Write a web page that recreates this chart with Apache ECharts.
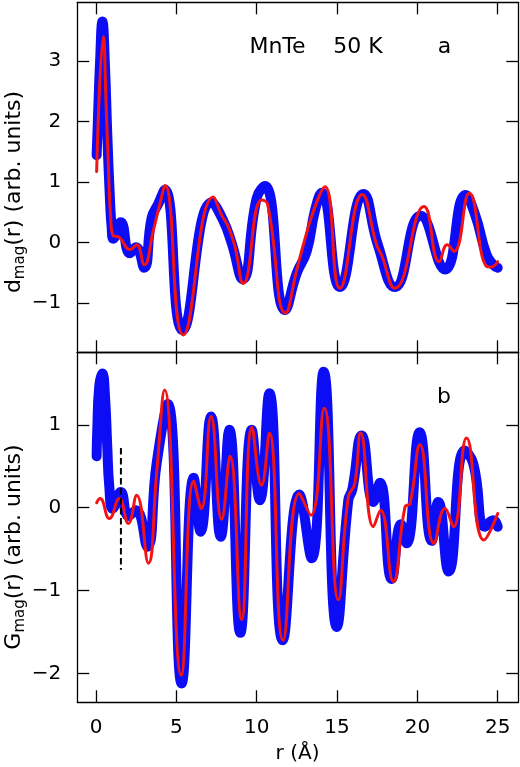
<!DOCTYPE html>
<html>
<head>
<meta charset="utf-8">
<script src="https://cdn.jsdelivr.net/npm/echarts@6/dist/echarts.min.js"></script>
<style>
  html, body { margin: 0; padding: 0; background: #fff; }
  #chart { width: 520px; height: 767px; }
</style>
</head>
<body>
<div id="chart"></div>
<script>
// ---- data: [r (Å), value] ----
var dExpt = [[0.04,1.44],[0.14,2.19],[0.24,2.90],[0.40,3.65],[0.56,2.90],[0.70,1.80],[0.87,0.70],[0.97,0.26],[1.08,0.06],[1.54,0.33],[2.10,-0.18],[2.49,-0.08],[3.00,-0.42],[3.46,0.40],[3.88,0.64],[4.29,0.87],[5.39,-1.45],[7.20,0.66],[7.90,0.37],[8.45,-0.02],[9.13,-0.61],[10.00,0.73],[10.52,0.93],[11.76,-1.12],[12.49,-0.51],[13.11,-0.15],[13.63,0.53],[14.04,0.82],[15.18,-0.74],[16.64,0.80],[17.55,-0.05],[18.60,-0.74],[20.20,0.44],[21.72,-0.45],[23.00,0.78],[23.60,0.45],[24.30,-0.20],[24.75,-0.38],[25.00,-0.42]];
var dCalc = [[0.04,1.17],[0.46,3.40],[0.62,2.35],[0.77,1.25],[0.91,0.42],[1.04,0.12],[1.45,0.08],[2.12,-0.12],[2.53,-0.04],[3.00,-0.37],[3.57,0.20],[3.98,0.64],[4.30,0.94],[5.43,-1.53],[7.30,0.75],[7.82,0.45],[8.23,0.26],[8.65,-0.07],[9.17,-0.68],[10.31,0.70],[10.68,0.63],[11.80,-1.17],[12.49,-0.46],[13.00,0.05],[13.63,0.59],[14.25,0.92],[15.18,-0.76],[16.57,0.79],[17.46,-0.04],[17.77,-0.21],[18.60,-0.76],[20.41,0.59],[21.36,-0.32],[21.86,-0.04],[22.28,-0.15],[23.23,0.81],[24.30,-0.40],[24.55,-0.41],[25.00,-0.32]];
var gExpt = [[0.04,0.62],[0.08,0.94],[0.20,1.46],[0.40,1.62],[0.56,1.34],[0.70,0.74],[0.83,0.25],[1.04,-0.01],[1.54,0.19],[2.01,-0.10],[2.49,-0.03],[3.19,-0.47],[3.77,0.53],[4.47,1.25],[5.33,-2.12],[6.08,0.36],[6.51,-0.29],[7.16,1.10],[7.76,-0.35],[8.30,0.94],[8.98,-1.51],[9.69,0.94],[10.20,0.09],[10.79,1.38],[11.62,-1.60],[12.65,0.16],[13.42,-0.61],[14.17,1.64],[14.98,-1.44],[15.70,0.09],[15.95,0.22],[16.53,0.87],[17.26,0.07],[17.67,0.30],[18.40,-0.86],[18.98,-0.20],[19.33,-0.43],[20.14,0.91],[20.89,-0.40],[21.30,0.07],[21.95,-0.77],[22.93,0.69],[23.48,0.53],[24.20,-0.23],[24.72,-0.15],[25.00,-0.23]];
var gCalc = [[0.04,0.06],[0.25,0.11],[0.83,-0.13],[1.45,0.11],[2.01,-0.19],[2.53,0.15],[3.26,-0.67],[3.77,0.41],[4.27,1.42],[5.30,-2.02],[6.08,0.32],[6.55,-0.01],[7.16,1.10],[7.82,-0.14],[8.34,0.62],[9.06,-1.35],[9.71,0.97],[10.30,0.27],[10.79,0.90],[11.64,-1.60],[12.65,0.17],[13.37,-0.09],[14.20,1.20],[15.08,-1.11],[15.70,0.13],[16.10,0.29],[16.47,0.90],[17.26,-0.23],[17.71,-0.03],[18.50,-0.89],[19.23,0.01],[19.54,0.05],[20.16,0.76],[21.03,-0.43],[21.72,-0.01],[22.24,-0.23],[23.06,0.84],[24.14,-0.39],[25.00,-0.07]];
var dashMark = [[1.55,0.72],[1.55,-0.75]];
var xTicks = [0,5,10,15,20,25];
var dTicks = [-1,0,1,2,3];
var gTicks = [-2,-1,0,1];

var FONT = 'DejaVu Sans';
var BLUE = '#0d0df5';
var RED = '#f21414';
function fmt(v){ return String(v).replace('-', '\u2212'); }

function xAx(grid, pos, labels){
  return {
    type:'value', gridIndex:grid, position:pos, min:-1.164, max:26.28,
    axisLine:{show:true, onZero:false, lineStyle:{color:'#000', width:1.3}},
    axisTick:{show:true, inside:true, length:12, customValues:xTicks, lineStyle:{color:'#000', width:1.3}},
    axisLabel:{show:labels, customValues:xTicks, margin:15, fontSize:20, fontFamily:FONT, color:'#000', formatter:fmt},
    splitLine:{show:false}
  };
}
function yAx(grid, pos, labels, mn, mx, ticks){
  return {
    type:'value', gridIndex:grid, position:pos, min:mn, max:mx,
    axisLine:{show:true, onZero:false, lineStyle:{color:'#000', width:1.3}},
    axisTick:{show:true, inside:true, length:12, customValues:ticks, lineStyle:{color:'#000', width:1.3}},
    axisLabel:{show:labels, customValues:ticks, margin:16, fontSize:20, fontFamily:FONT, color:'#000', formatter:fmt},
    splitLine:{show:false}
  };
}
function richName(main, sub, rest){
  return {
    text:'{n|' + main + '}{s|' + sub + '}{n|' + rest + '}',
    rich:{
      n:{fontSize:22, fontFamily:FONT, fill:'#000', lineHeight:28, verticalAlign:'middle'},
      s:{fontSize:15, fontFamily:FONT, fill:'#000', lineHeight:15, verticalAlign:'bottom'}
    },
    align:'center', verticalAlign:'middle'
  };
}

var chart = echarts.init(document.getElementById('chart'), null, {renderer:'canvas'});
chart.setOption({
  animation:false,
  backgroundColor:'#fff',
  grid:[
    {left:77.3, top:2.3, width:441, height:350},
    {left:77.3, top:352.3, width:441, height:350}
  ],
  xAxis:[
    xAx(0,'bottom',false), xAx(0,'top',false),
    xAx(1,'bottom',true), xAx(1,'top',false)
  ],
  yAxis:[
    yAx(0,'left',true,-1.818,3.967,dTicks), yAx(0,'right',false,-1.818,3.967,dTicks),
    yAx(1,'left',true,-2.348,1.875,gTicks), yAx(1,'right',false,-2.348,1.875,gTicks)
  ],
  series:[
    {type:'line', xAxisIndex:0, yAxisIndex:0, data:dExpt, smooth:0.5, showSymbol:false, z:2,
     lineStyle:{color:BLUE, width:10, cap:'round', join:'round'}},
    {type:'line', xAxisIndex:0, yAxisIndex:0, data:dCalc, smooth:0.5, showSymbol:false, z:3,
     lineStyle:{color:RED, width:3, cap:'round', join:'round'}},
    {type:'line', xAxisIndex:2, yAxisIndex:2, data:gExpt, smooth:0.5, showSymbol:false, z:2,
     lineStyle:{color:BLUE, width:10, cap:'round', join:'round'}},
    {type:'line', xAxisIndex:2, yAxisIndex:2, data:gCalc, smooth:0.5, showSymbol:false, z:3,
     lineStyle:{color:RED, width:3, cap:'round', join:'round'}},
    {type:'line', xAxisIndex:2, yAxisIndex:2, data:dashMark, showSymbol:false, z:4,
     lineStyle:{color:'#000', width:2, type:[6.5,3.5]}}
  ],
  graphic:[
    {type:'text', x:14, y:192, rotation:Math.PI/2, style:richName('d','mag','(r) (arb. units)')},
    {type:'text', x:14, y:547, rotation:Math.PI/2, style:richName('G','mag','(r) (arb. units)')},
    {type:'text', x:277.5, y:47, style:{text:'MnTe', fontSize:22, fontFamily:FONT, fill:'#000', align:'center', verticalAlign:'middle'}},
    {type:'text', x:358, y:47, style:{text:'50 K', fontSize:22, fontFamily:FONT, fill:'#000', align:'center', verticalAlign:'middle'}},
    {type:'text', x:444.5, y:47, style:{text:'a', fontSize:22, fontFamily:FONT, fill:'#000', align:'center', verticalAlign:'middle'}},
    {type:'text', x:444, y:397, style:{text:'b', fontSize:22, fontFamily:FONT, fill:'#000', align:'center', verticalAlign:'middle'}},
    {type:'text', x:297.5, y:754, style:{text:'r (Å)', fontSize:20, fontFamily:FONT, fill:'#000', align:'center', verticalAlign:'middle'}}
  ]
});
</script>
</body>
</html>
